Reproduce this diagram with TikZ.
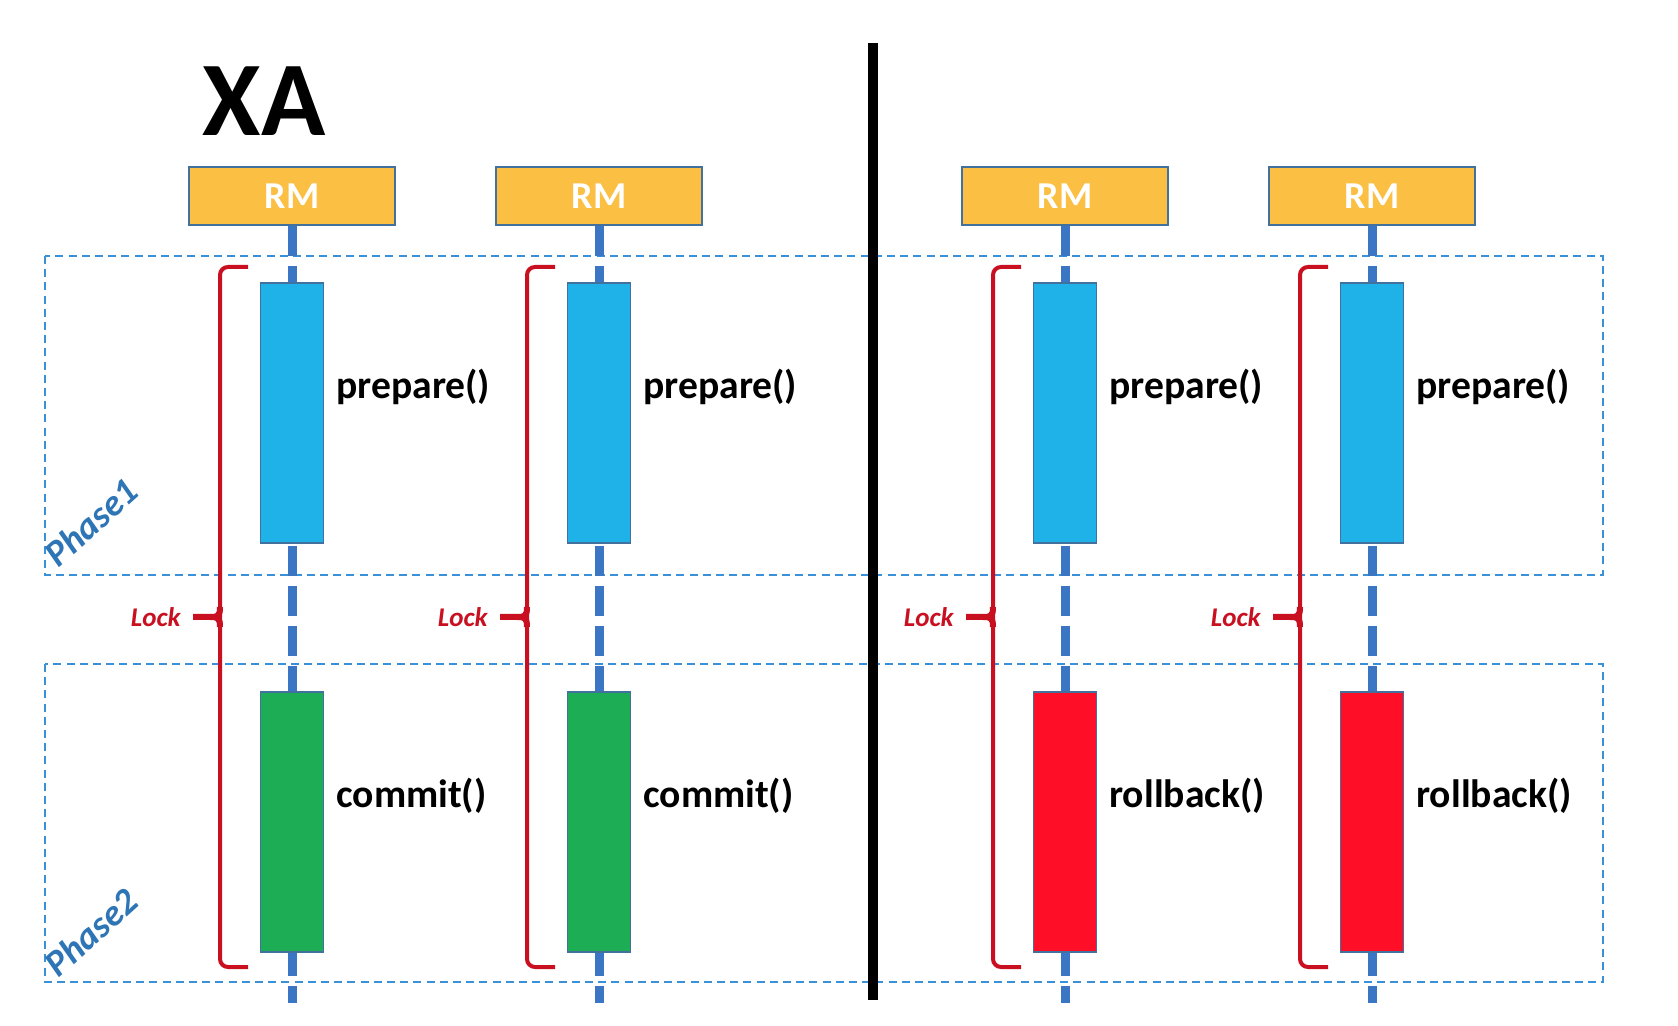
\documentclass[tikz,border=0pt]{standalone}
\usepackage{fontspec}
\setmainfont{Carlito}
\definecolor{rmfill}{RGB}{251,191,68}
\definecolor{edgeblue}{RGB}{65,113,156}
\definecolor{prepfill}{RGB}{31,178,232}
\definecolor{commitfill}{RGB}{29,173,85}
\definecolor{rollfill}{RGB}{255,14,40}
\definecolor{lifeblue}{RGB}{58,118,196}
\definecolor{phaseblue}{RGB}{58,145,215}
\definecolor{phasetext}{RGB}{46,117,182}
\definecolor{lockred}{RGB}{200,16,32}
\tikzset{
  rmbox/.style={draw=edgeblue, line width=1pt, fill=rmfill, minimum width=103pt, minimum height=29pt, inner sep=0pt,
    text=white, font=\bfseries\fontsize{19pt}{21pt}\selectfont},
  actbox/.style={draw=edgeblue, line width=0.8pt, fill=#1, minimum width=31.5pt, minimum height=130pt, inner sep=0pt, anchor=north},
  lifeline/.style={lifeblue, line width=4.5pt, dash pattern=on 15pt off 5pt},
  phasebox/.style={phaseblue, line width=1pt, dash pattern=on 4pt off 2.6pt},
  bracepath/.style={lockred, line width=2pt, rounded corners=4pt},
  spikepath/.style={lockred, line width=3pt},
  locktext/.style={lockred, inner sep=0pt, anchor=east, font=\bfseries\itshape\fontsize{13.5pt}{15pt}\selectfont},
  calltext/.style={inner sep=0pt, anchor=west, font=\bfseries\fontsize{19.8pt}{22pt}\selectfont},
  phaselabel/.style={phasetext, inner sep=0pt, rotate=42, font=\bfseries\itshape\fontsize{18.5pt}{20pt}\selectfont},
  divider/.style={black, line width=5pt}
}
\newcommand\xacolumn[4]{%
  % #1 index, #2 lifeline x, #3 fill of lower box, #4 lower label
  \node[rmbox] (rm#1) at (#2,196) {RM};
  \coordinate (end#1) at (#2,1003);
  \draw[lifeline] (rm#1.south) -- (end#1);
  \node[actbox=prepfill] (prep#1) at (#2,282) {};
  \node[actbox=#3] (low#1) at (#2,691) {};
  \node[calltext] (preptxt#1) at ({#2+44},387) {prepare()};
  \node[calltext] (lowtxt#1) at ({#2+44},796) {#4};
  \draw[bracepath] ({#2-44},267) -- ({#2-72},267) -- ({#2-72},967) -- ({#2-44},967);
  \coordinate (tip#1) at ({#2-99},617);
  \draw[spikepath] ({#2-72},607) .. controls ({#2-72},616) and ({#2-74},617) .. ({#2-82},617) -- (tip#1);
  \draw[spikepath] ({#2-72},627) .. controls ({#2-72},618) and ({#2-74},617) .. ({#2-82},617);
  \node[locktext] (lock#1) at ({#2-111},617) {Lock};
}
\begin{document}
\begin{tikzpicture}[x=0.5pt,y=-0.5pt]
\useasboundingbox (0,0) rectangle (1678,1026);
\fill[white] (0,0) rectangle (1678,1026);
% phase frames
\draw[phasebox] (45,256) rectangle (1603,575);
\draw[phasebox] (45,664) rectangle (1603,982);
\node[phaselabel] (ph1) at (91,522) {Phase1};
\node[phaselabel] (ph2) at (91,932) {Phase2};
% title
\node[inner sep=0pt, font=\bfseries\fontsize{53pt}{56pt}\selectfont] (title) at (264,101) {XA};
% divider
\coordinate (divtop) at (873,43);
\coordinate (divbot) at (873,1000);
\draw[divider] (divtop) -- (divbot);
% columns
\xacolumn{1}{292}{commitfill}{commit()}
\xacolumn{2}{599}{commitfill}{commit()}
\xacolumn{3}{1065}{rollfill}{rollback()}
\xacolumn{4}{1372}{rollfill}{rollback()}
\end{tikzpicture}
\end{document}
